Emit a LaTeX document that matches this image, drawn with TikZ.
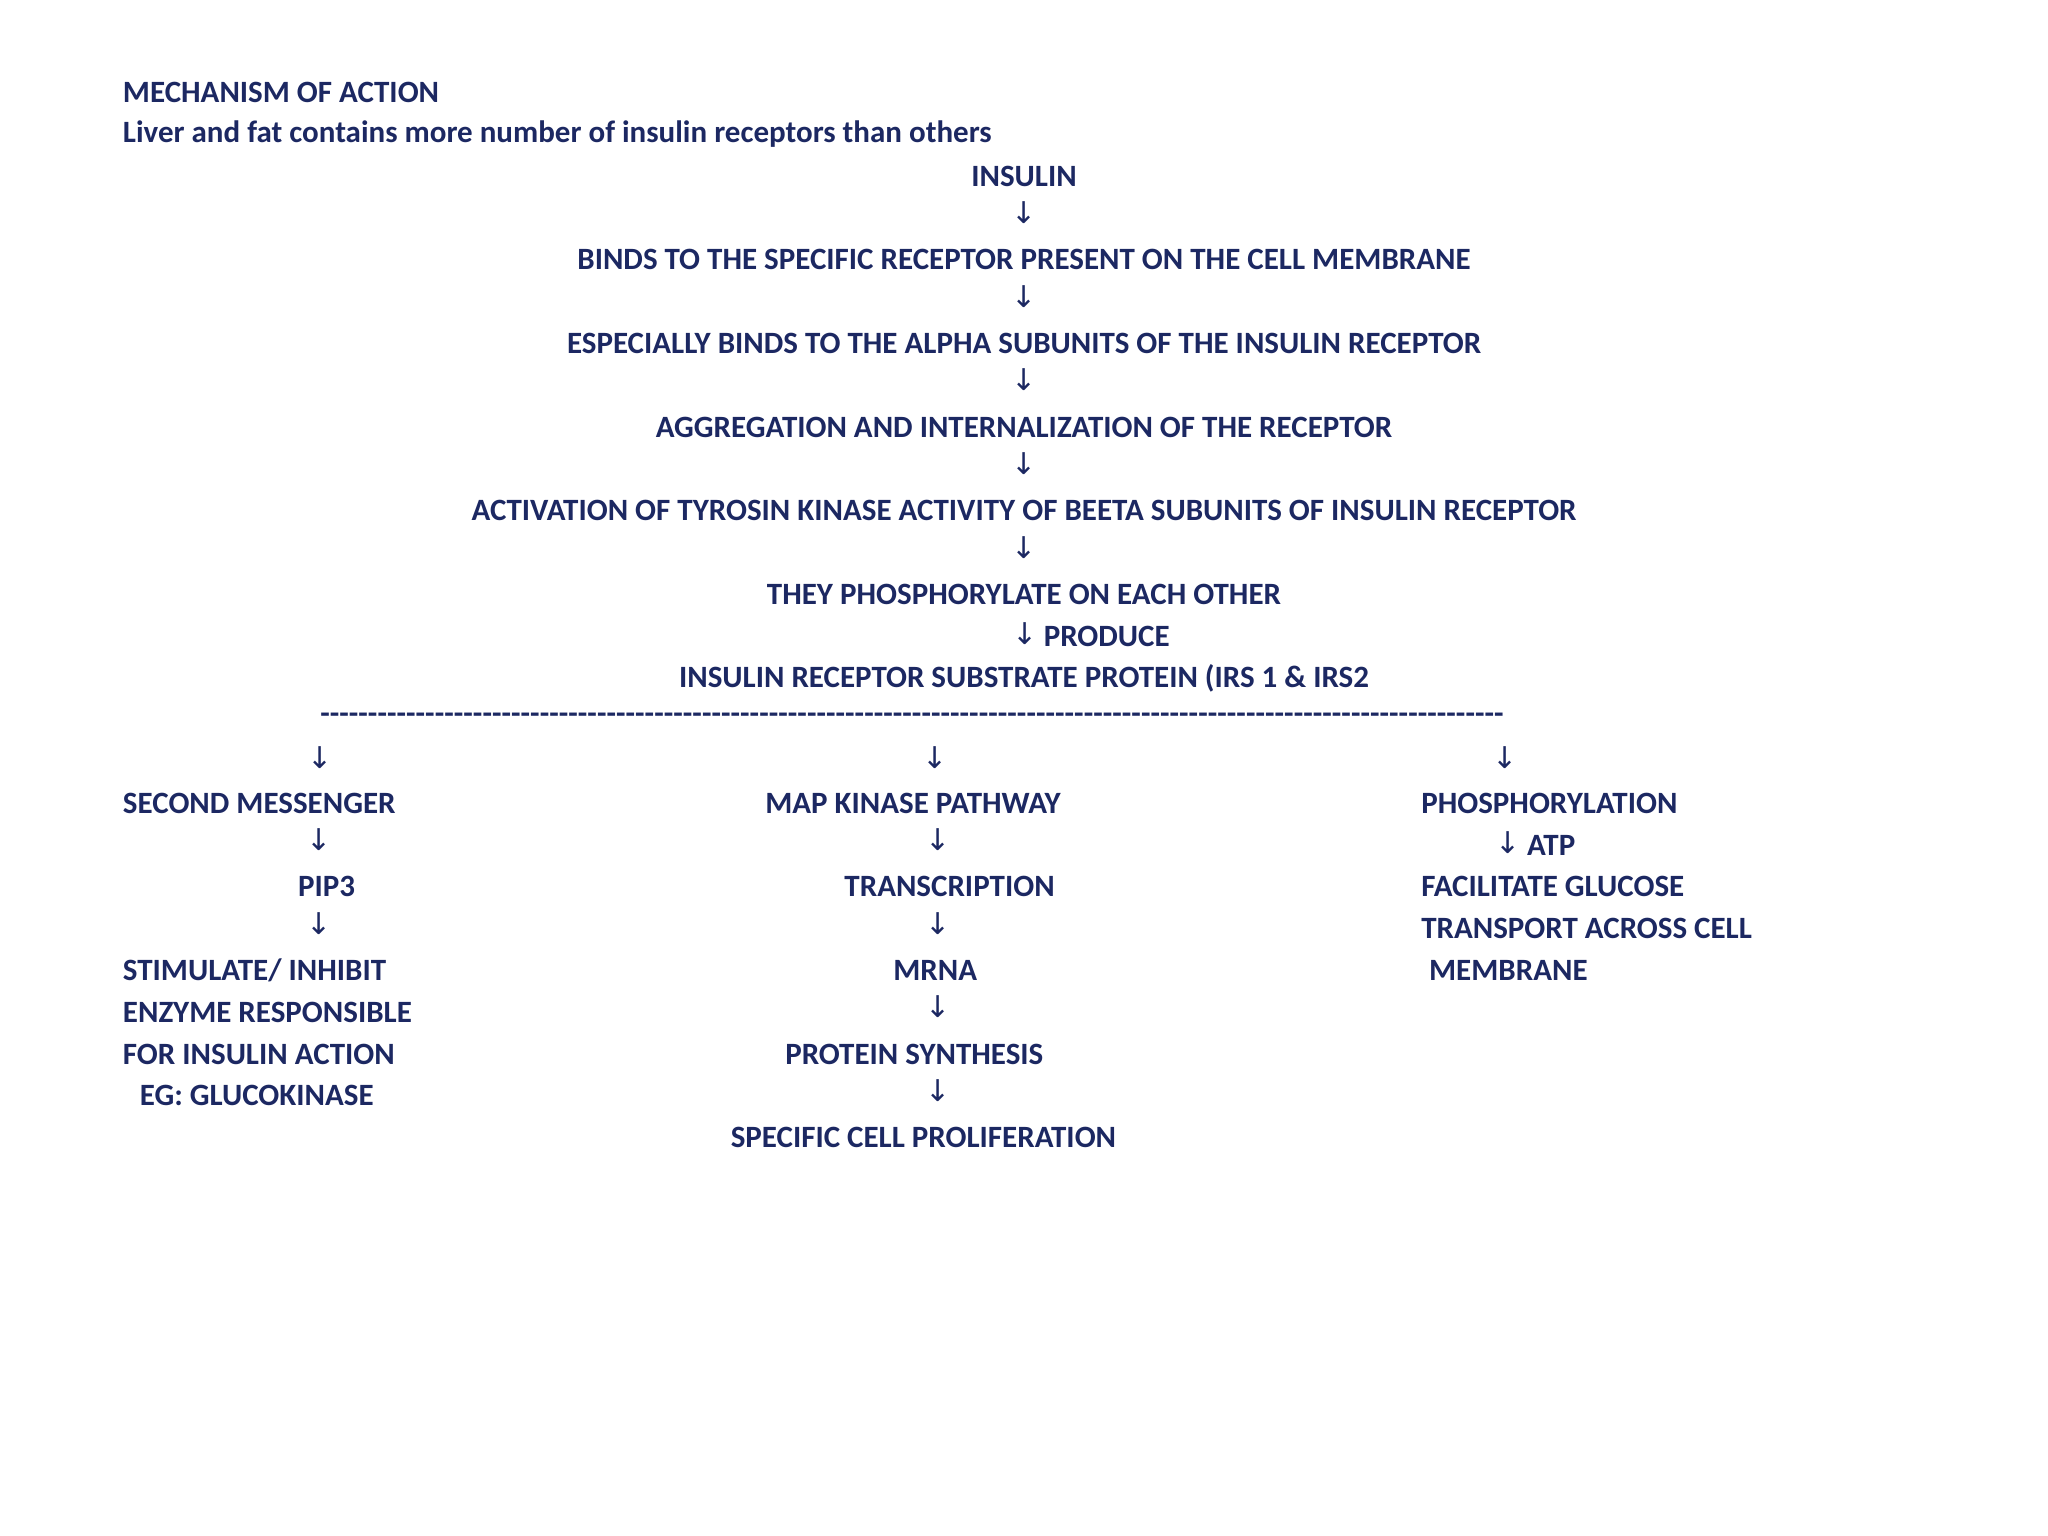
\documentclass[tikz,border=0pt]{standalone}
\usepackage{fontspec}
\setmainfont{Carlito}
\newfontfamily\arr{DejaVu Sans}
\definecolor{navy}{RGB}{28,40,98}
\begin{document}
\begin{tikzpicture}[x=1.306pt,y=-1.306pt,
  t/.style={inner sep=0pt,text=navy,font=\fontsize{31}{36}\selectfont\bfseries},
  tw/.style={t,anchor=west},
  ar/.style={inner sep=0pt,text=navy,font=\fontsize{30}{36}\selectfont\arr}]
\useasboundingbox (0,0) rectangle (1568,1176);
\node[tw] (h1) at (94,71) {MECHANISM OF ACTION};
\node[tw] (h2) at (94,103) {Liver and fat contains more number of insulin receptors than others};
\node[t] (n1) at (784,135) {INSULIN};
\node[ar] (a1) at (784,163) {↓};
\node[t] (n2) at (784,199) {BINDS TO THE SPECIFIC RECEPTOR PRESENT ON THE CELL MEMBRANE};
\node[ar] (a2) at (784,227) {↓};
\node[t] (n3) at (784,263) {ESPECIALLY BINDS TO THE ALPHA SUBUNITS OF THE INSULIN RECEPTOR};
\node[ar] (a3) at (784,291) {↓};
\node[t] (n4) at (784,327) {AGGREGATION AND INTERNALIZATION OF THE RECEPTOR};
\node[ar] (a4) at (784,355) {↓};
\node[t] (n5) at (784,391) {ACTIVATION OF TYROSIN KINASE ACTIVITY OF BEETA SUBUNITS OF INSULIN RECEPTOR};
\node[ar] (a5) at (784,419) {↓};
\node[t] (n6) at (784,455) {THEY PHOSPHORYLATE ON EACH OTHER};
\node[ar,anchor=west] (a6) at (775,485) {↓};
\node[tw] (p6) at (799,487) {PRODUCE};
\node[t] (n7) at (784,519) {INSULIN RECEPTOR SUBSTRATE PROTEIN (IRS 1 \& IRS2};
\node[t,anchor=west] (dash) at (245,550) {\hbox to 1184pt{\xleaders\hbox{-}\hfill}};
\node[ar] (b1) at (245,580) {↓};
\node[ar] (b2) at (716,580) {↓};
\node[ar] (b3) at (1152,580) {↓};
% left
\node[tw] (l1) at (94,615) {SECOND MESSENGER};
\node[ar] (la1) at (244,643) {↓};
\node[t] (l2) at (250,679) {PIP3};
\node[ar] (la2) at (244,707) {↓};
\node[tw] (l3) at (94,743) {STIMULATE/ INHIBIT};
\node[tw] (l4) at (94,775) {ENZYME RESPONSIBLE};
\node[tw] (l5) at (94,807) {FOR INSULIN ACTION};
\node[tw] (l6) at (107,839) {EG: GLUCOKINASE};
% middle
\node[t] (m1) at (699,615) {MAP KINASE PATHWAY};
\node[ar] (ma1) at (718,643) {↓};
\node[t] (m2) at (727,679) {TRANSCRIPTION};
\node[ar] (ma2) at (718,707) {↓};
\node[t] (m3) at (716,743) {MRNA};
\node[ar] (ma3) at (718,771) {↓};
\node[t] (m4) at (700,807) {PROTEIN SYNTHESIS};
\node[ar] (ma4) at (718,835) {↓};
\node[t] (m5) at (707,871) {SPECIFIC CELL PROLIFERATION};
% right
\node[tw] (r1) at (1088,615) {PHOSPHORYLATION};
\node[ar,anchor=west] (ra1) at (1145,645) {↓};
\node[tw] (r2) at (1169,647) {ATP};
\node[tw] (r3) at (1088,679) {FACILITATE GLUCOSE};
\node[tw] (r4) at (1088,711) {TRANSPORT ACROSS CELL};
\node[tw] (r5) at (1094,743) {MEMBRANE};
\end{tikzpicture}
\end{document}
